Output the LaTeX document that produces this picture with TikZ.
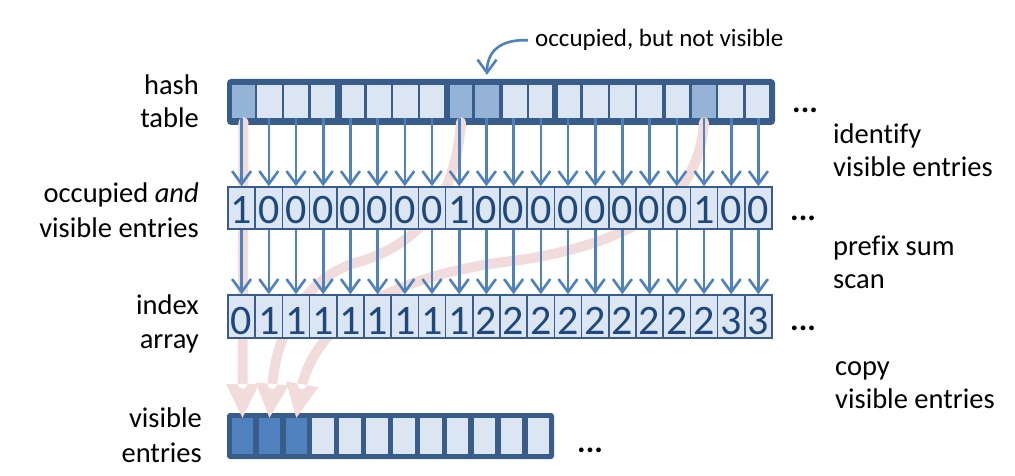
\documentclass[tikz,border=0pt]{standalone}
\usepackage{fontspec}
\setmainfont{Carlito}[Ligatures=NoCommon]
\usetikzlibrary{arrows.meta}
\definecolor{frameblue}{HTML}{385D8A}
\definecolor{lightcell}{HTML}{DCE6F2}
\definecolor{midcell}{HTML}{95B3D7}
\definecolor{darkcell}{HTML}{4F81BD}
\definecolor{arrowblue}{HTML}{4F81BD}
\definecolor{digitblue}{HTML}{1F497D}
\definecolor{pinkline}{HTML}{F2DCDB}
\begin{document}
\begin{tikzpicture}[x=1pt,y=-1pt,
  lbl/.style={font=\fontsize{28.5}{33}\selectfont, inner sep=0pt, anchor=base east},
  rlbl/.style={font=\fontsize{28.5}{33}\selectfont, inner sep=0pt, anchor=base west},
  dots/.style={font=\fontsize{32}{32}\selectfont\bfseries, inner sep=0pt, anchor=base west},
  frame/.style={fill=frameblue, rounded corners=4pt, inner sep=0pt},
  hcell/.style={inner sep=0pt, minimum height=33pt},
  bitcell/.style={draw=frameblue, line width=1.5pt, fill=lightcell, minimum width=27.2pt,
     inner sep=0pt, text=digitblue, font=\fontsize{42}{42}\selectfont, text height=36pt, text depth=6pt},
  idxcell/.style={bitcell, text height=39pt, text depth=4pt},
  vcell/.style={inner sep=0pt, minimum width=21.5pt, minimum height=36pt},
  barrow/.style={draw=arrowblue, line width=2.6pt, -{Straight Barb[length=13pt,width=19pt]}},
  pinkl/.style={draw=pinkline, line width=10pt, line cap=round}
]
\useasboundingbox (0,0) rectangle (1015,476);

% hash table
\node[frame, minimum width=548pt, minimum height=46pt] (ht) at (501,102) {};
\foreach \l/\r/\c [count=\i] in {232/255/midcell, 257/282/lightcell, 284/308/lightcell, 311/335/lightcell,
  342/364/lightcell, 367/391/lightcell, 393/418/lightcell, 420/444/lightcell,
  450/472/midcell, 475/499/midcell, 503/527/lightcell, 529/552/lightcell,
  558/580/lightcell, 583/608/lightcell, 610/635/lightcell, 637/662/lightcell,
  666/689/lightcell, 692/716/midcell, 718/743/lightcell, 746/769/lightcell}
  \node[hcell, fill=\c, minimum width={(\r-\l)*1pt}] (h\i) at ({(\l+\r)/2},101.5) {};

% visible entries row
\node[frame, rounded corners=3pt, minimum width=327pt, minimum height=46pt] (vt) at (390.5,436) {};
\foreach \i in {1,...,12}{
  \ifnum\i<4 \def\vc{darkcell}\else\def\vc{lightcell}\fi
  \node[vcell, fill=\vc] (v\i) at ({242.5+26.9*(\i-1)},436) {};
}

% pink copy curves
\draw[pinkl] ([yshift=-4pt]h1.south) -- ([yshift=34pt]v1.north);
\draw[pinkl] ([yshift=-4pt]h9.south) .. controls (455,200) and (420,245) .. (355,263)
   .. controls (300,280) and (276,340) .. ([xshift=3pt,yshift=33.9pt]v2.north);
\draw[pinkl] ([yshift=-4pt]h18.south) .. controls (700,190) and (650,240) .. (520,260)
   .. controls (410,272) and (322,310) .. ([xshift=5.9pt,yshift=33.5pt]v3.north);
\foreach \n/\a in {1/0, 2/-5, 3/-10}{
  \begin{scope}[shift={(v\n.north)}, rotate=\a]
    \fill[pinkline] (0,0) -- (-16.5,-34) -- (16.5,-34) -- cycle;
    \fill[white] (-5,-34) arc[start angle=180, end angle=0, radius=5] -- cycle;
  \end{scope}
}

% bits row and index row
\foreach \b/\x [count=\i] in {1/0,0/1,0/1,0/1,0/1,0/1,0/1,0/1,1/1,0/2,0/2,0/2,0/2,0/2,0/2,0/2,0/2,1/2,0/3,0/3}{
  \node[bitcell] (b\i) at ({241.6+27.2*(\i-1)},208) {\b};
  \node[idxcell] (x\i) at ({241.6+27.2*(\i-1)},316.5) {\x};
}

% blue arrows
\foreach \i in {1,...,20}{
  \draw[barrow] (b\i.north |- h\i.south) -- (b\i.north);
  \draw[barrow] (b\i.south) -- (x\i.north);
}

% annotation
\node[font=\fontsize{25}{25}\selectfont, inner sep=0pt, anchor=base west] (ann) at (535,47) {occupied, but not visible};
\draw[barrow] ([xshift=-7pt]ann.west) .. controls (505,39) and (487,48) .. ([yshift=10pt]h10.north);

% left labels
\node[lbl] (l1a) at (199,95) {hash};
\node[lbl] (l1b) at (199,128) {table};
\node[lbl] (l2a) at (199,203) {occupied \textit{and}};
\node[lbl] (l2b) at (199,237) {visible entries};
\node[lbl] (l3a) at (199,314) {index};
\node[lbl] (l3b) at (199,348) {array};
\node[lbl] (l4a) at (202,427) {visible};
\node[lbl] (l4b) at (202,462) {entries};

% right labels
\node[rlbl] (r1a) at (833,144) {identify};
\node[rlbl] (r1b) at (833,177) {visible entries};
\node[rlbl] (r2a) at (833,255) {prefix sum};
\node[rlbl] (r2b) at (833,288) {scan};
\node[rlbl] (r3a) at (835,375) {copy};
\node[rlbl] (r3b) at (835,408) {visible entries};

% dots
\node[dots] (d1) at (792,113) {...};
\node[dots] (d2) at (790,220) {...};
\node[dots] (d3) at (790,330) {...};
\node[dots] (d4) at (577,452) {...};
\end{tikzpicture}
\end{document}
